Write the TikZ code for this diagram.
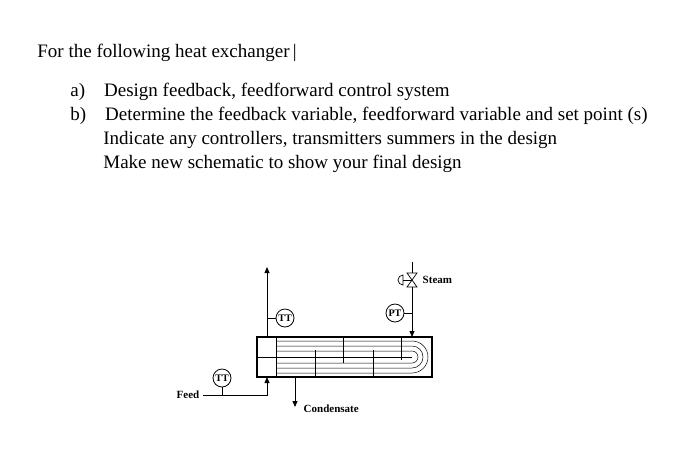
\documentclass[tikz,border=0pt]{standalone}
\usepackage{fontspec}
\setmainfont{Liberation Serif}
\usetikzlibrary{positioning,arrows.meta}
\tikzset{
  inst/.style={draw, circle, inner sep=0pt, minimum size=18pt, font=\bfseries\fontsize{10}{10}\selectfont},
  lbl/.style={font=\bfseries\fontsize{11}{12}\selectfont},
  txt/.style={anchor=base west, font=\fontsize{19}{22}\selectfont, inner sep=0pt}
}
\begin{document}
\begin{tikzpicture}[x=1pt, y=-1pt, >={Triangle[length=6pt,width=5pt]}, line width=0.8pt]
    \useasboundingbox (0,0) rectangle (685,451);
    % question text
    \node[txt] (q) at (37,57) {For the following heat exchanger\,|};
    \node[txt] (ia) at (70,96) {a)\quad Design feedback, feedforward control system};
    \node[txt] (ib) at (70,120) {b)\quad Determine the feedback variable, feedforward variable and set point (s)};
    \node[txt] (ic) at (103,144) {Indicate any controllers, transmitters summers in the design};
    \node[txt] (id) at (103,168) {Make new schematic to show your final design};
    % shell and header
    \draw[line width=1.1pt] (257,337) rectangle (432,377);
    \draw (257,337) rectangle (276,377);
    \draw (257,357) -- (276,357);
    \coordinate (hin) at (267,377);
    \coordinate (hout) at (267,337);
    % tubes
    \foreach \d in {0,5,10} {
        \draw[line width=0.5pt] (276,341+\d) -- (412,341+\d)
            arc[start angle=-90, end angle=90, radius=16-\d] -- (276,373-\d);
    }
    \draw[line width=0.5pt] (276,357) -- (412,357);
    \foreach \x/\a/\b in {315/350/377, 343/337/363, 373/350/377, 401/337/360}
        \draw (\x,\a) -- (\x,\b);
    % outlet
    \coordinate (top) at (267,267);
    \draw[->] (hout) -- (top);
    \node[inst] (tt1) at (285,318) {TT};
    \draw (267,318) -- (tt1);
    % feed
    \node[lbl, anchor=east] (feed) at (203,395) {Feed};
    \coordinate (fc) at (267,395);
    \draw[->] (feed.east) -- (fc) -- (hin);
    \node[inst] (tt2) at (222,378) {TT};
    \draw (tt2.south) -- (222,395);
    % condensate
    \coordinate (cond) at (295,407);
    \draw[->] (295,377) -- (cond);
    \node[lbl, anchor=west] (condl) at (300,409) {Condensate};
    % steam
    \coordinate (st) at (412,262);
    \draw (st) -- (412,273);
    \draw[->] (412,287) -- (412,337);
    \draw[line width=0.7pt] (407,273) -- (417,287) -- (407,287) -- (417,273) -- cycle;
    \draw[line width=0.7pt] (412,280) -- (403,280);
    \draw[line width=0.7pt] (403,275) arc[start angle=-90, end angle=-270, radius=5] -- cycle;
    \node[lbl, anchor=west] (steam) at (419,280) {Steam};
    \node[inst] (pt) at (395,313) {PT};
    \draw (pt) -- (412,313);
\end{tikzpicture}
\end{document}
